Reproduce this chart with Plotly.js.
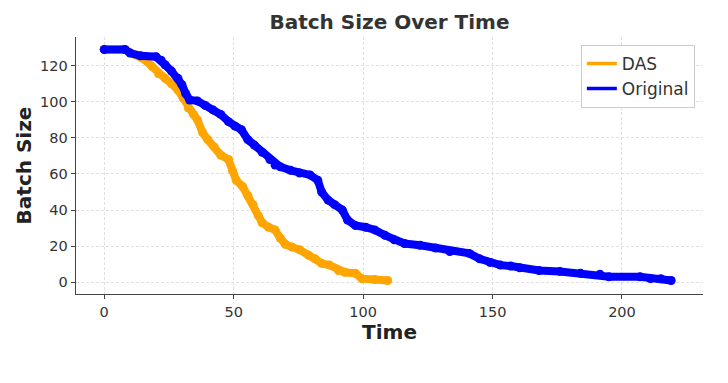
<!DOCTYPE html>
<html>
<head>
<meta charset="utf-8">
<script src="https://cdn.plot.ly/plotly-3.0.1.min.js"></script>
<style>html,body{margin:0;padding:0;background:#fff;}#chart{width:728px;height:383px;}</style>
</head>
<body>
<div id="chart"></div>
<script>
const dasTime = [0, 8, 12, 16, 18.5, 21, 23.5, 26, 28.5, 30.5, 32.5, 34.5, 36, 38, 40, 42.5, 45, 48, 49.5, 51, 53.5, 55.5, 57.5, 59.5, 61, 63.5, 66, 68, 70, 72.5, 75.5, 79, 81.5, 84, 87, 90.5, 93, 97, 99.5, 104.5, 109.5];
const dasBatch = [129, 129, 126, 123, 119.5, 115.5, 113, 110, 106.5, 102, 96.5, 93, 90, 83, 79, 75, 70.5, 68, 62, 56.5, 53, 48, 43, 37, 33, 30.5, 29, 24.5, 21, 19.5, 18, 15, 13, 10.5, 9.5, 6.5, 5.5, 5, 2, 1.5, 1];

const origTime = [0, 8, 10, 14, 20, 22, 23.5, 26, 28.5, 30, 31.5, 33, 36, 39, 42, 45, 48, 50.5, 53, 55.5, 58, 61, 64, 66, 68, 72, 75.5, 79.5, 82.5, 84, 86.5, 89, 92, 94, 97, 101, 104.5, 108.5, 112, 116, 122, 128, 133.5, 141, 145, 149, 153, 157, 160.5, 168, 176, 184, 191.5, 195, 207, 211, 215, 219];
const origBatch = [129, 129, 127, 125.5, 125, 123, 120.5, 117, 113, 109.5, 104.5, 101, 100.5, 98, 95.5, 93, 89, 86.5, 84.5, 79, 76, 72, 68, 65, 64, 62, 60.5, 59.5, 56.5, 50, 45.5, 43, 40, 34.5, 31.5, 30.5, 29, 26, 23.5, 21.5, 20.5, 19, 17, 16, 13, 11, 9.5, 9, 8, 6.5, 6, 5, 4.5, 3, 3, 2, 2, 1];

const seriesNames = ['DAS', 'Original'];
const seriesColors = ['#FFA500', '#0000FF'];
const xTicks = [0, 50, 100, 150, 200];
const yTicks = [0, 20, 40, 60, 80, 100, 120];

const font = 'DejaVu Sans, sans-serif';
const seriesData = [[dasTime, dasBatch], [origTime, origBatch]];
const traces = [];
seriesData.forEach(function (d, i) {
  traces.push({x: d[0], y: d[1], name: seriesNames[i], mode: 'lines+markers', showlegend: false,
    line: {color: seriesColors[i], width: 8}, marker: {color: seriesColors[i], size: 9}});
});
seriesData.forEach(function (d, i) {
  traces.push({x: [null], y: [null], name: seriesNames[i], mode: 'lines', showlegend: true,
    line: {color: seriesColors[i], width: 3.5}});
});
const axisCommon = {
  showgrid: true, gridcolor: '#e0e0e0', griddash: '3px,2px', gridwidth: 1,
  zeroline: false, showline: true, linecolor: '#444', linewidth: 1.3,
  ticks: 'outside', ticklen: 4, tickcolor: '#444',
  tickfont: {family: font, size: 14.5, color: '#333'}
};
const layout = {
  width: 728, height: 383,
  margin: {l: 76, r: 25, t: 37, b: 89},
  paper_bgcolor: '#fff', plot_bgcolor: '#fff',
  font: {family: font, color: '#333'},
  title: {text: '<b>Batch Size Over Time</b>', x: 0.535, xanchor: 'center', y: 0.943, yanchor: 'middle',
          font: {family: font, size: 20, color: '#333'}},
  xaxis: Object.assign({}, axisCommon, {
    range: [-10.9, 231.3], tickvals: xTicks, ticktext: xTicks.map(String),
    title: {text: '<b>Time</b>', font: {family: font, size: 20, color: '#222'}, standoff: 4}
  }),
  yaxis: Object.assign({}, axisCommon, {
    range: [-6.5, 135.9], tickvals: yTicks, ticktext: yTicks.map(String),
    title: {text: '<b>Batch Size</b>', font: {family: font, size: 20, color: '#222'}, standoff: 3}
  }),
  showlegend: true,
  legend: {x: 0.987, y: 0.969, xanchor: 'right', yanchor: 'top',
           bgcolor: 'rgba(255,255,255,0.9)', bordercolor: '#ccc', borderwidth: 1,
           font: {family: font, size: 17, color: '#333'}}
};
Plotly.newPlot('chart', traces, layout, {displayModeBar: false, staticPlot: true});
</script>
</body>
</html>
